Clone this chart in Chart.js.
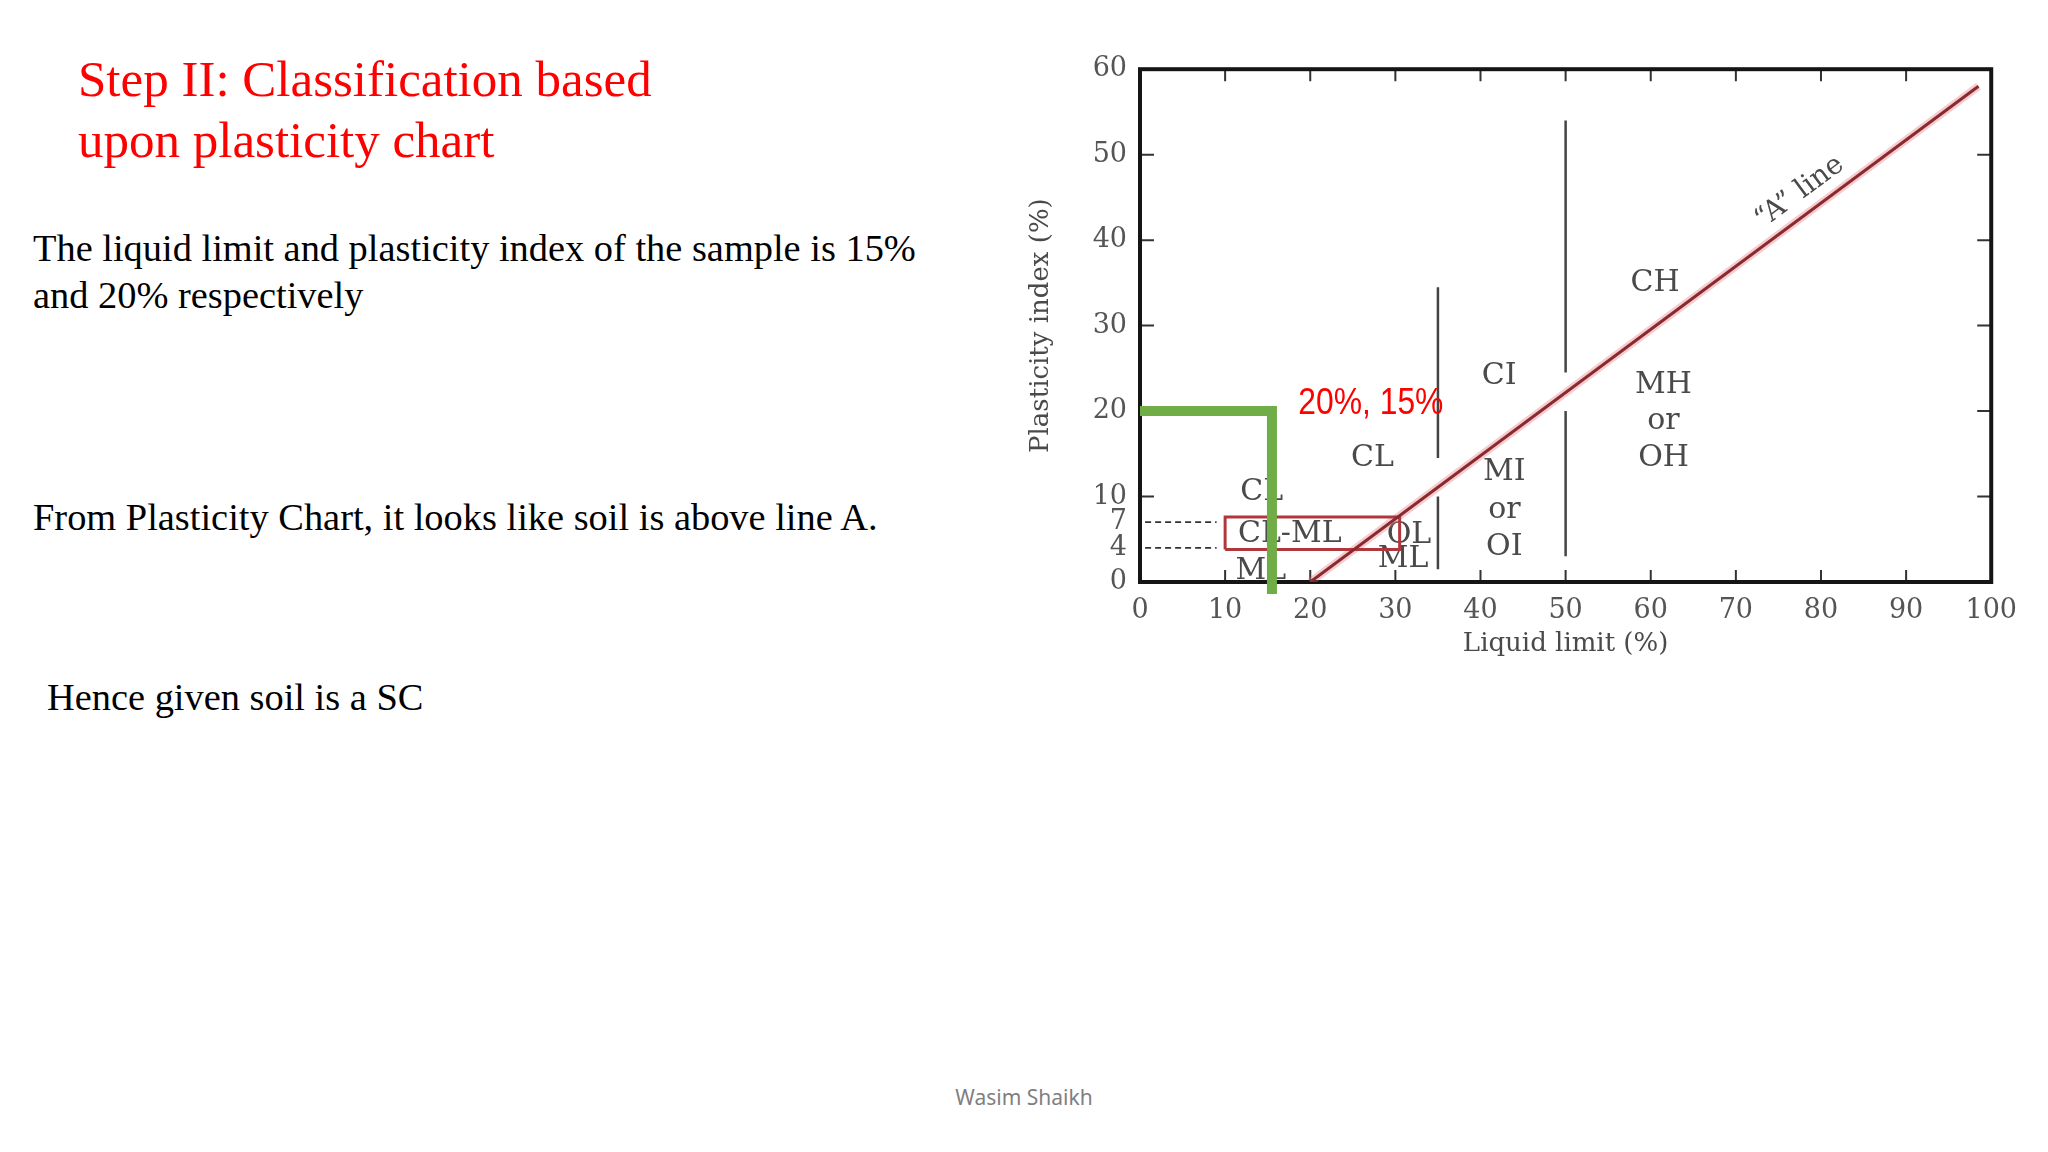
<!DOCTYPE html>
<html>
<head>
<meta charset="utf-8">
<script src="https://cdn.jsdelivr.net/npm/chart.js@4.4.1/dist/chart.umd.min.js"></script>
<style>
  html, body { margin: 0; padding: 0; background: #fff; }
  body { width: 2048px; height: 1152px; position: relative; overflow: hidden;
         font-family: 'Liberation Serif', 'Times New Roman', serif; }
  .title { position: absolute; left: 78px; top: 49px; color: #ff0000; font-size: 51px; line-height: 61px; }
  .txt { position: absolute; left: 33px; font-size: 38.4px; line-height: 47px; color: #000; white-space: nowrap; }
  .footer { position: absolute; left: 0; width: 2048px; top: 1087px; text-align: center;
            font-family: 'Noto Sans', sans-serif; font-size: 21px; line-height: 21px; color: #7f7f7f; }
  #plot { position: absolute; left: 1000px; top: 40px; }
</style>
</head>
<body>
<div class="title">Step II: Classification based<br>upon plasticity chart</div>
<div class="txt" style="top:225px">The liquid limit and plasticity index of the sample is 15%<br>and 20% respectively</div>
<div class="txt" style="top:494px">From Plasticity Chart, it looks like soil is above line A.</div>
<div class="txt" style="top:674px; left:47px">Hence given soil is a SC</div>
<div class="footer">Wasim Shaikh</div>
<canvas id="plot" width="1030" height="640"></canvas>
<script>
// axis ticks
const liquidLimitTicks = [0, 10, 20, 30, 40, 50, 60, 70, 80, 90, 100];
const plasticityTicks = [0, 4, 7, 10, 20, 30, 40, 50, 60];
const innerTicksLL = [10, 20, 30, 40, 50, 60, 70, 80, 90];
const innerTicksPI = [10, 20, 30, 40, 50];

// "A" line
const aLineLL = [20, 98.5];
const aLinePI = [0, 58];

// dividing lines at LL 35 and 50 (broken where the A line crosses)
const div35UpperLL = [35, 35];
const div35UpperPI = [14.5, 34.5];
const div35LowerLL = [35, 35];
const div35LowerPI = [1.5, 10];
const div50UpperLL = [50, 50];
const div50UpperPI = [24.5, 54];
const div50LowerLL = [50, 50];
const div50LowerPI = [3, 20];

// CL-ML band
const bandLL = [10, 30.5, 30.5, 10, 10];
const bandPI = [3.8, 3.8, 7.6, 7.6, 3.8];
const dash7LL = [0.6, 9];
const dash7PI = [7, 7];
const dash4LL = [0.6, 9];
const dash4PI = [4, 4];

// sample reading (green guide)
const sampleLL = [0, 15.5, 15.5];
const samplePI = [20, 20, -1.4];

// zone names
const zoneText = ['CL', 'CL', 'CL-ML', 'ML', 'OL', 'ML', 'CI', 'MI', 'or', 'OI', 'CH', 'MH', 'or', 'OH'];
const zoneLL = [14.3, 27.3, 17.6, 14.2, 31.6, 30.9, 42.2, 42.8, 42.8, 42.8, 60.5, 61.5, 61.5, 61.5];
const zonePI = [10.5, 14.5, 5.6, 1.3, 5.5, 2.7, 24.1, 12.8, 8.4, 4.1, 35, 23, 18.8, 14.5];

const sampleNote = '20%, 15%';
const sampleNoteLL = 18.6;
const sampleNotePI = 20.8;

function pts(xs, ys) {
    return xs.map(function (x, i) { return { x: x, y: ys[i] }; });
}

function seg(xs, ys, color, width, order, extra) {
    return Object.assign({
        data: pts(xs, ys),
        showLine: true,
        borderColor: color,
        borderWidth: width,
        pointRadius: 0,
        pointHoverRadius: 0,
        order: order
    }, extra || {});
}

const serif = "'DejaVu Serif', 'Liberation Serif', serif";

// border, inner ticks and zone names
const overlay = {
    id: 'overlay',
    beforeDatasetsDraw(chart) {
        const ctx = chart.ctx;
        const a = chart.chartArea;
        const x = chart.scales.x;
        const y = chart.scales.y;
        ctx.save();
        ctx.strokeStyle = '#333';
        ctx.lineWidth = 2;
        ctx.beginPath();
        innerTicksLL.forEach(function (v) {
            const px = x.getPixelForValue(v);
            ctx.moveTo(px, a.top); ctx.lineTo(px, a.top + 12);
            ctx.moveTo(px, a.bottom); ctx.lineTo(px, a.bottom - 12);
        });
        innerTicksPI.forEach(function (v) {
            const py = y.getPixelForValue(v);
            ctx.moveTo(a.left, py); ctx.lineTo(a.left + 14, py);
            ctx.moveTo(a.right, py); ctx.lineTo(a.right - 14, py);
        });
        ctx.stroke();

        ctx.lineWidth = 4;
        ctx.strokeStyle = '#151515';
        ctx.strokeRect(a.left, a.top, a.width, a.height);

        ctx.fillStyle = '#4a4a4a';
        ctx.font = '30px ' + serif;
        ctx.textAlign = 'center';
        ctx.textBaseline = 'middle';
        zoneText.forEach(function (t, i) {
            ctx.fillText(t, x.getPixelForValue(zoneLL[i]), y.getPixelForValue(zonePI[i]));
        });

        // label along the A line
        const x0 = x.getPixelForValue(aLineLL[0]), y0 = y.getPixelForValue(aLinePI[0]);
        const x1 = x.getPixelForValue(aLineLL[1]), y1 = y.getPixelForValue(aLinePI[1]);
        ctx.translate(x.getPixelForValue(77.5), y.getPixelForValue(45.6));
        ctx.rotate(Math.atan2(y1 - y0, x1 - x0));
        ctx.font = '28px ' + serif;
        ctx.fillText('\u201cA\u201d line', 0, 0);
        ctx.restore();
    },
    afterDatasetsDraw(chart) {
        const ctx = chart.ctx;
        ctx.save();
        ctx.fillStyle = '#ff0000';
        ctx.font = "37px 'Liberation Sans', sans-serif";
        ctx.textAlign = 'left';
        ctx.textBaseline = 'middle';
        // narrower face, like the original slide font
        ctx.translate(chart.scales.x.getPixelForValue(sampleNoteLL), chart.scales.y.getPixelForValue(sampleNotePI));
        ctx.scale(0.86, 1);
        ctx.fillText(sampleNote, 0, 0);
        ctx.restore();
    }
};

const tickFont = { family: serif, size: 27 };

new Chart(document.getElementById('plot').getContext('2d'), {
    type: 'scatter',
    data: {
        datasets: [
            seg(sampleLL, samplePI, '#70ad47', 10, 0, { clip: false, borderJoinStyle: 'miter', borderCapStyle: 'butt' }),
            seg(aLineLL, aLinePI, '#8a2a2e', 3, 1),
            seg(aLineLL, aLinePI, 'rgba(225,110,120,0.35)', 8, 8),
            seg(div35UpperLL, div35UpperPI, '#444', 2.5, 2),
            seg(div35LowerLL, div35LowerPI, '#444', 2.5, 2),
            seg(div50UpperLL, div50UpperPI, '#444', 2.5, 2),
            seg(div50LowerLL, div50LowerPI, '#444', 2.5, 2),
            seg(bandLL, bandPI, '#b0383c', 3, 3),
            seg(dash7LL, dash7PI, '#333', 1.8, 4, { borderDash: [6, 4] }),
            seg(dash4LL, dash4PI, '#333', 1.8, 4, { borderDash: [6, 4] })
        ]
    },
    options: {
        responsive: false,
        animation: false,
        layout: { padding: { top: 29, right: 36, left: 0, bottom: 0 } },
        plugins: {
            legend: { display: false },
            tooltip: { enabled: false }
        },
        scales: {
            x: {
                type: 'linear',
                min: 0,
                max: 100,
                afterBuildTicks: function (s) { s.ticks = liquidLimitTicks.map(function (v) { return { value: v }; }); },
                afterFit: function (s) { s.height = 98; },
                ticks: { autoSkip: false, maxRotation: 0, color: '#555', font: tickFont, padding: 13 },
                grid: { display: false, drawTicks: false },
                border: { display: false },
                title: {
                    display: true,
                    text: 'Liquid limit (%)',
                    color: '#4a4a4a',
                    font: { family: serif, size: 26 },
                    padding: { top: 0, bottom: 20 }
                }
            },
            y: {
                type: 'linear',
                min: 0,
                max: 60,
                afterBuildTicks: function (s) { s.ticks = plasticityTicks.map(function (v) { return { value: v }; }); },
                afterFit: function (s) { s.width = 140; },
                ticks: { autoSkip: false, color: '#555', font: tickFont, padding: 13 },
                grid: { display: false, drawTicks: false },
                border: { display: false },
                title: {
                    display: true,
                    text: 'Plasticity index (%)',
                    color: '#4a4a4a',
                    font: { family: serif, size: 26 },
                    padding: { top: 26, bottom: 0 }
                }
            }
        }
    },
    plugins: [overlay]
});
</script>
</body>
</html>
